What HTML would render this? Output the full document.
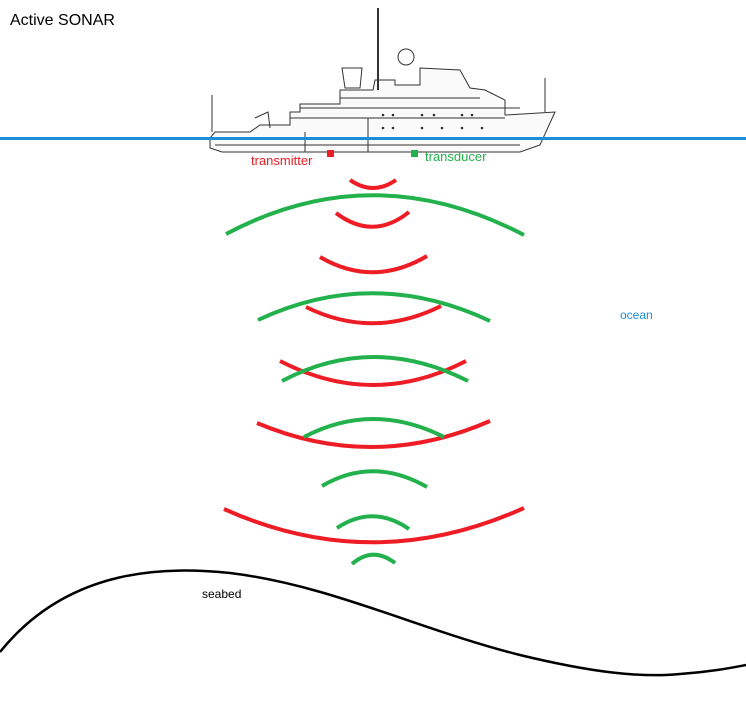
<!DOCTYPE html>
<html><head><style>
html,body{margin:0;padding:0;background:#fff;width:746px;height:703px;overflow:hidden}
svg{display:block}
text{font-family:"Liberation Sans",sans-serif}
</style></head><body>
<svg width="746" height="703" viewBox="0 0 746 703" xmlns="http://www.w3.org/2000/svg">
<text x="10" y="25" font-size="16" fill="#000">Active SONAR</text>
<!-- ship -->
<g fill="none" stroke="#333" stroke-width="1">
<path d="M210,138 L210,148 L222,152 L520,152 L540,145 L555,112 L505,115 L505,100 L485,90 L470,88 L460,70 L420,68 L420,85 L395,85 L395,80 L375,80 L373,90 L340,90 L340,104 L300,104 L300,112 L290,112 L290,125 L260,125 L250,132 L215,132 Z" fill="#fafafa"/>
<line x1="212" y1="95" x2="212" y2="132"/>
<line x1="378" y1="8" x2="378" y2="90" stroke-width="2"/>
<circle cx="406" cy="57" r="8" fill="#fff"/>
<line x1="545" y1="78" x2="545" y2="112"/>
<line x1="290" y1="118" x2="505" y2="118"/>
<line x1="300" y1="108" x2="520" y2="108"/>
<line x1="340" y1="98" x2="480" y2="98"/>
<path d="M255,118 L268,112 L270,128"/>
<path d="M342,68 L362,68 L360,88 L345,88 Z"/>
<line x1="215" y1="145" x2="520" y2="145"/>
<line x1="368" y1="118" x2="368" y2="152"/>
<line x1="305" y1="132" x2="305" y2="152"/>
</g>
<g fill="#333">
<circle cx="383" cy="115" r="1.3"/><circle cx="393" cy="115" r="1.3"/><circle cx="422" cy="115" r="1.3"/><circle cx="434" cy="115" r="1.3"/><circle cx="462" cy="115" r="1.3"/><circle cx="472" cy="115" r="1.3"/>
<circle cx="383" cy="128" r="1.3"/><circle cx="393" cy="128" r="1.3"/><circle cx="422" cy="128" r="1.3"/><circle cx="442" cy="128" r="1.3"/><circle cx="462" cy="128" r="1.3"/><circle cx="482" cy="128" r="1.3"/>
</g>
<line x1="0" y1="138.5" x2="746" y2="138.5" stroke="#1a8fd6" stroke-width="3"/>
<rect x="327" y="150" width="7" height="7" fill="#ee1c24"/>
<rect x="411" y="150" width="7" height="7" fill="#22b14c"/>
<text x="251" y="165" font-size="13" fill="#ee1c24">transmitter</text>
<text x="425" y="161" font-size="13" fill="#22b14c">transducer</text>
<text x="620" y="319" font-size="12" fill="#1a8fd6">ocean</text>
<text x="202" y="598" font-size="12" fill="#000">seabed</text>
<g fill="none" stroke-width="4" stroke-linecap="butt">
<path d="M226,234 Q373,156 524,235" stroke="#22b14c"/>
<path d="M350,180 Q373,196 396,180" stroke="#ee1c24"/>
<path d="M336,213 Q373,241 409,212" stroke="#ee1c24"/>
<path d="M320,257 Q373,288 427,256" stroke="#ee1c24"/>
<path d="M306,307 Q373,340 441,306" stroke="#ee1c24"/>
<path d="M258,320 Q373,266 490,321" stroke="#22b14c"/>
<path d="M280,361 Q373,409 466,361" stroke="#ee1c24"/>
<path d="M282,381 Q373,333 468,381" stroke="#22b14c"/>
<path d="M257,423 Q373,472 490,421" stroke="#ee1c24"/>
<path d="M304,437 Q373,401 444,437" stroke="#22b14c"/>
<path d="M322,486 Q373,456 427,487" stroke="#22b14c"/>
<path d="M224,509 Q373,576 524,508" stroke="#ee1c24"/>
<path d="M337,528 Q373,504 409,529" stroke="#22b14c"/>
<path d="M352,564 Q373,546 395,563" stroke="#22b14c"/>
</g>
<path d="M0,652 C70,565 170,567 230,573 C330,585 420,630 520,655 C590,672 640,678 680,674 C710,672 730,668 746,665" fill="none" stroke="#000" stroke-width="2.5"/>
</svg>
</body></html>
